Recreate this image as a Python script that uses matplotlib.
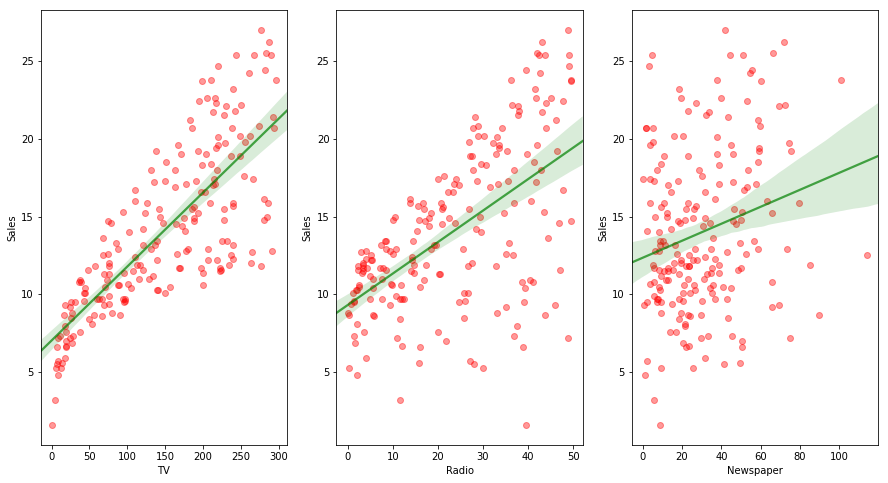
import numpy as np
import matplotlib
matplotlib.use("Agg")
import matplotlib.pyplot as plt
import seaborn as sns

# advertising budget (thousands) and sales per market
tv = [230.1, 44.5, 17.2, 151.5, 180.8, 8.7, 57.5, 120.2, 8.6, 199.8,
      66.1, 214.7, 23.8, 97.5, 204.1, 195.4, 67.8, 281.4, 69.2, 147.3,
      218.4, 237.4, 13.2, 228.3, 62.3, 262.9, 142.9, 240.1, 248.8, 70.6,
      292.9, 112.9, 97.2, 265.6, 95.7, 290.7, 266.9, 74.7, 43.1, 228.0,
      202.5, 177.0, 293.6, 206.9, 25.1, 175.1, 89.7, 239.9, 227.2, 66.9,
      199.8, 100.4, 216.4, 182.6, 262.7, 198.9, 7.3, 136.2, 210.8, 210.7,
      53.5, 261.3, 239.3, 102.7, 131.1, 69.0, 31.5, 139.3, 237.4, 216.8,
      199.1, 109.8, 26.8, 129.4, 213.4, 16.9, 27.5, 120.5, 5.4, 116.0,
      76.4, 239.8, 75.3, 68.4, 213.5, 193.2, 76.3, 110.7, 88.3, 109.8,
      134.3, 28.6, 217.7, 250.9, 107.4, 163.3, 197.6, 184.9, 289.7, 135.2,
      222.4, 296.4, 280.2, 187.9, 238.2, 137.9, 25.0, 90.4, 13.1, 255.4,
      225.8, 241.7, 175.7, 209.6, 78.2, 75.1, 139.2, 76.4, 125.7, 19.4,
      141.3, 18.8, 224.0, 123.1, 229.5, 87.2, 7.8, 80.2, 220.3, 59.6,
      0.7, 265.2, 8.4, 219.8, 36.9, 48.3, 25.6, 273.7, 43.0, 184.9,
      73.4, 193.7, 220.5, 104.6, 96.2, 140.3, 240.1, 243.2, 38.0, 44.7,
      280.7, 121.0, 197.6, 171.3, 187.8, 4.1, 93.9, 149.8, 11.7, 131.7,
      172.5, 85.7, 188.4, 163.5, 117.2, 234.5, 17.9, 206.8, 215.4, 284.3,
      50.0, 164.5, 19.6, 168.4, 222.4, 276.9, 248.4, 170.2, 276.7, 165.6,
      156.6, 218.5, 56.2, 287.6, 253.8, 205.0, 139.5, 191.1, 286.0, 18.7,
      39.5, 75.5, 17.2, 166.8, 149.7, 38.2, 94.2, 177.0, 283.6, 232.1]
radio = [37.8, 39.3, 45.9, 41.3, 10.8, 48.9, 32.8, 19.6, 2.1, 2.6,
         5.8, 24.0, 35.1, 7.6, 32.9, 47.7, 36.6, 39.6, 20.5, 23.9,
         27.7, 5.1, 15.9, 16.9, 12.6, 3.5, 29.3, 16.7, 27.1, 16.0,
         28.3, 17.4, 1.5, 20.0, 1.4, 4.1, 43.8, 49.4, 26.7, 37.7,
         22.3, 33.4, 27.7, 8.4, 25.7, 22.5, 9.9, 41.5, 15.8, 11.7,
         3.1, 9.6, 41.7, 46.2, 28.8, 49.4, 28.1, 19.2, 49.6, 29.5,
         2.0, 42.7, 15.5, 29.6, 42.8, 9.3, 24.6, 14.5, 27.5, 43.9,
         30.6, 14.3, 33.0, 5.7, 24.6, 43.7, 1.6, 28.5, 29.9, 7.7,
         26.7, 4.1, 20.3, 44.5, 43.0, 18.4, 27.5, 40.6, 25.5, 47.8,
         4.9, 1.5, 33.5, 36.5, 14.0, 31.6, 3.5, 21.0, 42.3, 41.7,
         4.3, 36.3, 10.1, 17.2, 34.3, 46.4, 11.0, 0.3, 0.4, 26.9,
         8.2, 38.0, 15.4, 20.6, 46.8, 35.0, 14.3, 0.8, 36.9, 16.0,
         26.8, 21.7, 2.4, 34.6, 32.3, 11.8, 38.9, 0.0, 49.0, 12.0,
         39.6, 2.9, 27.2, 33.5, 38.6, 47.0, 39.0, 28.9, 25.9, 43.9,
         17.0, 35.4, 33.2, 5.7, 14.8, 1.9, 7.3, 49.0, 40.3, 25.8,
         13.9, 8.4, 23.3, 39.7, 21.1, 11.6, 43.5, 1.3, 36.9, 18.4,
         18.1, 35.8, 18.1, 36.8, 14.7, 3.4, 37.6, 5.2, 23.6, 10.6,
         11.6, 20.9, 20.1, 7.1, 3.4, 48.9, 30.2, 7.8, 2.3, 10.0,
         2.6, 5.4, 5.7, 43.0, 21.3, 45.1, 2.1, 28.7, 13.9, 12.1,
         41.1, 10.8, 4.1, 42.0, 35.6, 3.7, 4.9, 9.3, 42.0, 8.6]
newspaper = [69.2, 45.1, 69.3, 58.5, 58.4, 75.0, 23.5, 11.6, 1.0, 21.2,
             24.2, 4.0, 65.9, 7.2, 46.0, 52.9, 114.0, 55.8, 18.3, 19.1,
             53.4, 23.5, 49.6, 26.2, 18.3, 19.5, 12.6, 22.9, 22.9, 40.8,
             43.2, 38.6, 30.0, 0.3, 7.4, 8.5, 5.0, 45.7, 35.1, 32.0,
             31.6, 38.7, 1.8, 26.4, 43.3, 31.5, 35.7, 18.5, 49.9, 36.8,
             34.6, 3.6, 39.6, 58.7, 15.9, 60.0, 41.4, 16.6, 37.7, 9.3,
             21.4, 54.7, 27.3, 8.4, 28.9, 0.9, 2.2, 10.2, 11.0, 27.2,
             38.7, 31.7, 19.3, 31.3, 13.1, 89.4, 20.7, 14.2, 9.4, 23.1,
             22.3, 36.9, 32.5, 35.6, 33.8, 65.7, 16.0, 63.2, 73.4, 51.4,
             9.3, 33.0, 59.0, 72.3, 10.9, 52.9, 5.9, 22.0, 51.2, 45.9,
             49.8, 100.9, 21.4, 17.9, 5.3, 59.0, 29.7, 23.2, 25.6, 5.5,
             56.5, 23.2, 2.4, 10.7, 34.5, 52.7, 25.6, 14.8, 79.2, 22.3,
             46.2, 50.4, 15.6, 12.4, 74.2, 25.9, 50.6, 9.2, 3.2, 43.1,
             8.7, 43.0, 2.1, 45.1, 65.6, 8.5, 9.3, 59.7, 20.5, 1.7,
             12.9, 75.6, 37.9, 34.4, 38.9, 9.0, 8.7, 44.3, 11.9, 20.6,
             37.0, 48.7, 14.2, 37.7, 9.5, 5.7, 50.5, 24.3, 45.2, 34.6,
             30.7, 49.3, 25.6, 7.4, 5.4, 84.8, 21.6, 19.4, 57.6, 6.4,
             18.4, 47.4, 17.0, 12.8, 13.1, 41.8, 20.3, 35.2, 23.7, 17.6,
             8.3, 27.4, 29.7, 71.8, 30.0, 19.6, 26.6, 18.2, 3.7, 23.4,
             5.8, 6.0, 31.6, 3.6, 6.0, 13.8, 8.1, 6.4, 66.2, 8.7]
sales = [22.1, 10.4, 9.3, 18.5, 12.9, 7.2, 11.8, 13.2, 4.8, 10.6,
         8.6, 17.4, 9.2, 9.7, 19.0, 22.4, 12.5, 24.4, 11.3, 14.6,
         18.0, 12.5, 5.6, 15.5, 9.7, 12.0, 15.0, 15.9, 18.9, 10.5,
         21.4, 11.9, 9.6, 17.4, 9.5, 12.8, 25.4, 14.7, 10.1, 21.5,
         16.6, 17.1, 20.7, 12.9, 8.5, 14.9, 10.6, 23.2, 14.8, 9.7,
         11.4, 10.7, 22.6, 21.2, 20.2, 23.7, 5.5, 13.2, 23.8, 18.4,
         8.1, 24.2, 15.7, 14.0, 18.0, 9.3, 9.5, 13.4, 18.9, 22.3,
         18.3, 12.4, 8.8, 11.0, 17.0, 8.7, 6.9, 14.2, 5.3, 11.0,
         11.8, 12.3, 11.3, 13.6, 21.7, 15.2, 12.0, 16.0, 12.9, 16.7,
         11.2, 7.3, 19.4, 22.2, 11.5, 16.9, 11.7, 15.5, 25.4, 17.2,
         11.7, 23.8, 14.8, 14.7, 20.7, 19.2, 7.2, 8.7, 5.3, 19.8,
         13.4, 21.8, 14.1, 15.9, 14.6, 12.6, 12.2, 9.4, 15.9, 6.6,
         15.5, 7.0, 11.6, 15.2, 19.7, 10.6, 6.6, 8.8, 24.7, 9.7,
         1.6, 12.7, 5.7, 19.6, 10.8, 11.6, 9.5, 20.8, 9.6, 20.7,
         10.9, 19.2, 20.1, 10.4, 11.4, 10.3, 13.2, 25.4, 10.9, 10.1,
         16.1, 11.6, 16.6, 19.0, 15.6, 3.2, 15.3, 10.1, 7.3, 12.9,
         14.4, 13.3, 14.9, 18.0, 11.9, 11.9, 8.0, 12.2, 17.1, 15.0,
         8.4, 14.5, 7.6, 11.7, 11.5, 27.0, 20.2, 11.7, 11.8, 12.6,
         10.5, 12.2, 8.7, 26.2, 17.6, 22.6, 10.3, 17.3, 15.9, 6.7,
         10.8, 9.9, 5.9, 19.6, 17.3, 7.6, 9.7, 12.8, 25.5, 13.4]

plt.rcParams['font.size'] = 10

fig, axs = plt.subplots(1, 3, figsize=(888 / 72, 483 / 72), dpi=72)
fig.subplots_adjust(left=0.046, right=0.989, top=0.979, bottom=0.079, wspace=0.2)

for ax, x, name in zip(axs, [tv, radio, newspaper], ["TV", "Radio", "Newspaper"]):
    sns.regplot(x=np.array(x), y=np.array(sales), ax=ax, color='g', truncate=False, seed=1,
                scatter_kws={'color': 'r', 'alpha': 0.4},
                line_kws={'alpha': 0.7})
    ax.set_xlabel(name)
    ax.set_ylabel("Sales")

plt.savefig("out.png", dpi=72)
